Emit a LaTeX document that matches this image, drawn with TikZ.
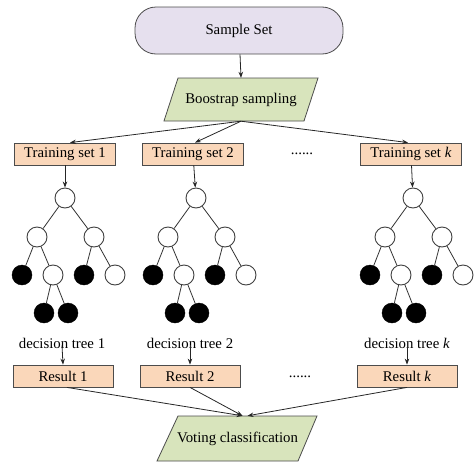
\documentclass[tikz,border=0pt]{standalone}
\usepackage{fontspec}
\setmainfont{Liberation Serif}
\usetikzlibrary{arrows.meta}
\definecolor{lav}{HTML}{E6E0EE}
\definecolor{grn}{HTML}{D8E4BC}
\definecolor{pch}{HTML}{FAD7BA}
\tikzset{
  every node/.style={font=\fontsize{14.8}{17}\selectfont},
  arr/.style={draw=black!85, line width=0.8pt, -{Stealth[length=6pt,width=4.5pt]}},
  edge/.style={draw=black!80, line width=0.8pt},
  setbox/.style={draw=black!70, fill=pch, line width=0.8pt, minimum width=101pt, minimum height=22pt, inner sep=0pt},
  wn/.style={circle, draw=black!75, line width=0.9pt, fill=white, minimum size=20pt, inner sep=0pt},
  bn/.style={circle, draw=black, fill=black, minimum size=20pt, inner sep=0pt},
  para/.style={draw=black!70, fill=grn, line width=0.8pt},
  lbl/.style={inner sep=0pt}
}
\begin{document}
\begin{tikzpicture}[x=1pt,y=-1pt]
\useasboundingbox (0,0) rectangle (474,474);
% Sample set
\node[draw=black!70, fill=lav, line width=0.8pt, rounded corners=21pt, minimum width=208pt, minimum height=47pt] (sample) at (239,30.5) {Sample Set};
% Boostrap parallelogram
\filldraw[para] (164,121) -- (178,78) -- (318,78) -- (304,121) -- cycle;
\node[lbl, minimum width=126pt, minimum height=43pt] (boot) at (241,99.5) {Boostrap sampling};
\draw[arr] (sample) -- (boot.north);
% Training sets
\node[setbox] (ts1) at (65,154) {Training set 1};
\node[setbox] (ts2) at (193,154) {Training set 2};
\node[setbox] (tsk) at (411,154) {Training set \textit{k}};
\node[lbl] (dots1) at (302,154) {......};
\draw[arr] (boot.south) -- ([xshift=5pt]ts1.north);
\draw[arr] (boot.south) -- ([xshift=2pt]ts2.north);
\draw[arr] (boot.south) -- ([xshift=-3pt]tsk.north);
% Trees
\foreach \t/\o in {1/0, 2/131, k/348}{
  \node[wn] (r\t)   at (65+\o,198) {};
  \node[wn] (a\t)   at (37+\o,237) {};
  \node[wn] (b\t)   at (94+\o,237) {};
  \node[bn] (aa\t)  at (22+\o,275) {};
  \node[wn] (ab\t)  at (53+\o,275) {};
  \node[bn] (ba\t)  at (84+\o,275) {};
  \node[wn] (bb\t)  at (115+\o,275) {};
  \node[bn] (aba\t) at (44+\o,313) {};
  \node[bn] (abb\t) at (68+\o,313) {};
  \draw[edge] (r\t) -- (a\t);
  \draw[edge] (r\t) -- (b\t);
  \draw[edge] (a\t) -- (aa\t);
  \draw[edge] (a\t) -- (ab\t);
  \draw[edge] (b\t) -- (ba\t);
  \draw[edge] (b\t) -- (bb\t);
  \draw[edge] (ab\t) -- (aba\t);
  \draw[edge] (ab\t) -- (abb\t);
}
\draw[arr] (ts1) -- (r1);
\draw[arr] (ts2) -- (r2);
\draw[arr] (tsk) -- (rk);
% decision tree labels
\node[lbl] (dt1) at (62,343) {decision tree 1};
\node[lbl] (dt2) at (190,343) {decision tree 2};
\node[lbl] (dtk) at (407,343) {decision tree \textit{k}};
% Results
\node[setbox, minimum width=100pt] (res1) at (63,376) {Result 1};
\node[setbox, minimum width=100pt] (res2) at (190,376) {Result 2};
\node[setbox, minimum width=100pt] (resk) at (407,376) {Result \textit{k}};
\node[lbl] (dots2) at (300,377) {......};
\draw[arr] ([yshift=3pt]dt1.south) -- (res1.north);
\draw[arr] ([yshift=3pt]dt2.south) -- (res2.north);
\draw[arr] ([yshift=3pt]dtk.south) -- (resk.north);
% Voting
\filldraw[para] (157,461) -- (178,416) -- (317,416) -- (298,461) -- cycle;
\node[lbl, minimum width=120pt, minimum height=45pt] (vote) at (237.5,438.5) {Voting classification};
\coordinate (vin1) at ([xshift=5pt]vote.north);
\coordinate (vin2) at ([xshift=10pt]vote.north);
\draw[arr] ([xshift=4pt]res1.south) -- (vin1);
\draw[arr] (res2.south) -- (vin1);
\draw[arr] (resk.south) -- (vin2);
\end{tikzpicture}
\end{document}
